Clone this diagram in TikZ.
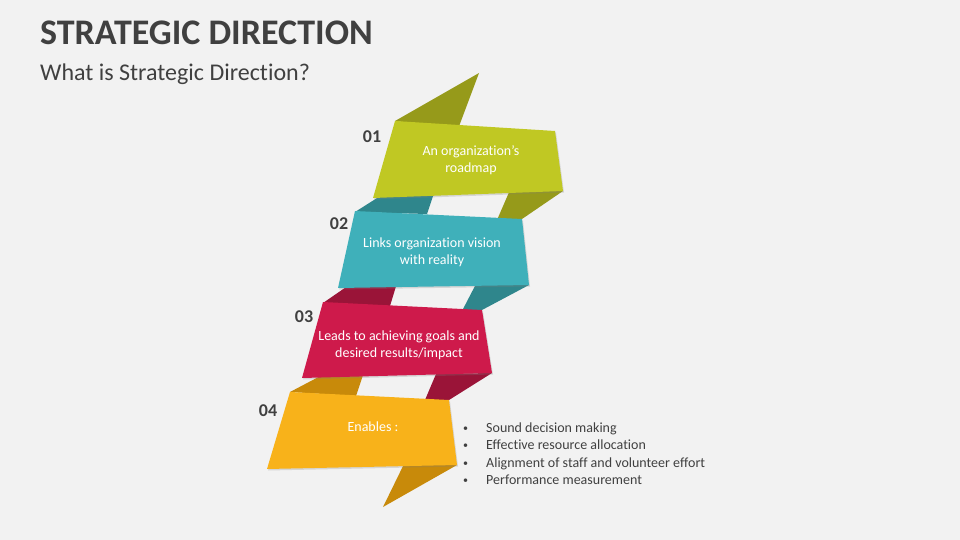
\documentclass[tikz,border=0pt]{standalone}
\usepackage{fontspec}
\setmainfont{Carlito}[Ligatures={NoCommon}]
\usetikzlibrary{shadows}
\definecolor{bg}{RGB}{242,242,242}
\definecolor{txtgray}{RGB}{64,64,64}
\definecolor{olive}{RGB}{192,200,35}
\definecolor{oliveD}{RGB}{150,154,26}
\definecolor{teal}{RGB}{63,176,186}
\definecolor{tealD}{RGB}{47,134,140}
\definecolor{crimson}{RGB}{206,26,75}
\definecolor{crimsonD}{RGB}{154,20,56}
\definecolor{gold}{RGB}{248,178,26}
\definecolor{goldD}{RGB}{200,138,10}
\begin{document}
\begin{tikzpicture}[x=1pt,y=-1pt,
  panel/.style={drop shadow={opacity=0.25,shadow xshift=1pt,shadow yshift=-1.5pt}},
  ptext/.style={text=white,font=\fontsize{14}{17}\selectfont,align=center},
  num/.style={text=txtgray,font=\bfseries\fontsize{18}{21}\selectfont},
  blt/.style={text=txtgray,font=\fontsize{14}{16}\selectfont,anchor=base west,inner sep=0pt},
  dot/.style={text=txtgray,font=\fontsize{10}{12}\selectfont,anchor=base west,inner sep=0pt}]
\fill[bg] (0,0) rectangle (960,540);
\useasboundingbox (0,0) rectangle (960,540);
% titles
\node[anchor=base west,inner sep=0pt,text=txtgray,font=\bfseries\fontsize{36}{40}\selectfont] (title) at (40,45) {STRATEGIC DIRECTION};
\node[anchor=base west,inner sep=0pt,text=txtgray,font=\fontsize{24}{28}\selectfont] (subtitle) at (40,81) {What is Strategic Direction?};
% back bands
\fill[oliveD] (395,121) -- (479,73) -- (458,129) -- cycle;
\fill[tealD] (355,212) -- (385,193) -- (434,193) -- (427,214) -- cycle;
\fill[oliveD] (510,190) -- (563,191) -- (522,219) -- (497,220) -- cycle;
\fill[crimsonD] (323,303) -- (352,283) -- (397,283) -- (390,306) -- cycle;
\fill[tealD] (476,284) -- (529,285) -- (482,310) -- (462,311) -- cycle;
\fill[goldD] (290,392) -- (328,372) -- (364,372) -- (356,396) -- cycle;
\fill[crimsonD] (436,374) -- (492,373) -- (449,400) -- (425,400) -- cycle;
\fill[goldD] (405,462) -- (457,465) -- (383,507) -- cycle;
% panels
\fill[olive,panel] (395,121) -- (555,131) -- (563,191) -- (373,198) -- cycle;
\fill[teal,panel] (355,211) -- (522,219) -- (529,285) -- (338,288) -- cycle;
\fill[crimson,panel] (323,302) -- (482,310) -- (492,373) -- (302,378) -- cycle;
\fill[gold,panel] (290,392) -- (449,400) -- (457,465) -- (267,469) -- cycle;
% panel texts
\node[ptext] (t1) at (471,160) {An organization’s\\roadmap};
\node[ptext] (t2) at (432,252) {Links organization vision\\with reality};
\node[ptext] (t3) at (399,345) {Leads to achieving goals and\\desired results/impact};
\node[ptext] (t4) at (373,427) {Enables :};
% numbers
\node[num] (n1) at (372,137) {01};
\node[num] (n2) at (339,224) {02};
\node[num] (n3) at (304,317) {03};
\node[num] (n4) at (268,411) {04};
% bullets
\node[dot] (b1) at (463,431) {•};
\node[blt] (l1) at (486,432) {Sound decision making};
\node[dot] (b2) at (463,448) {•};
\node[blt] (l2) at (486,449) {Effective resource allocation};
\node[dot] (b3) at (463,466) {•};
\node[blt] (l3) at (486,467) {Alignment of staff and volunteer effort};
\node[dot] (b4) at (463,483) {•};
\node[blt] (l4) at (486,484) {Performance measurement};
\end{tikzpicture}
\end{document}
